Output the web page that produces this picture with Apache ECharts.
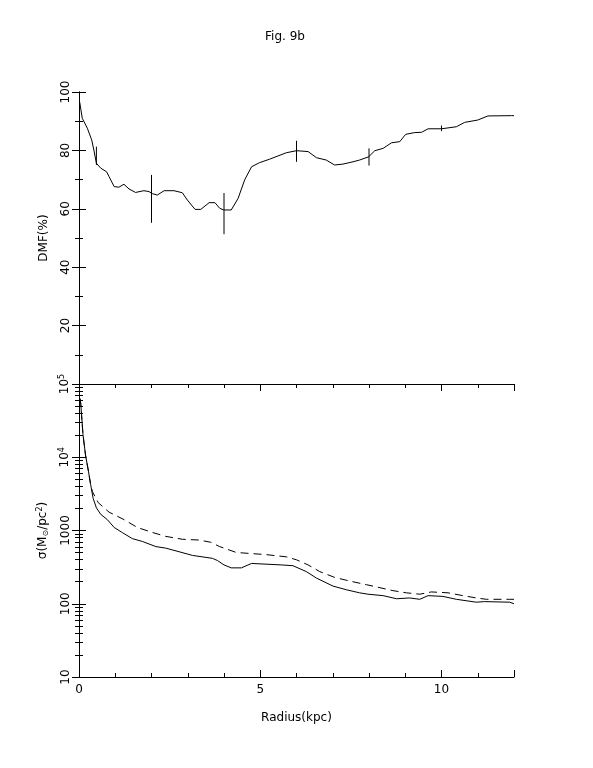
<!DOCTYPE html>
<html>
<head>
<meta charset="utf-8">
<script src="https://cdn.jsdelivr.net/npm/echarts@6/dist/echarts.min.js"></script>
<style>
  html, body { margin: 0; padding: 0; background: #fff; }
  #chart { width: 593px; height: 768px; }
</style>
</head>
<body>
<div id="chart"></div>
<script>
// top panel: dark matter fraction
var dmfR = [0.02, 0.09, 0.23, 0.35, 0.41, 0.48, 0.6, 0.76, 0.83, 0.97, 1.1, 1.24, 1.38, 1.56, 1.79, 1.93, 2.02, 2.16, 2.35, 2.62, 2.85, 2.99, 3.2, 3.36, 3.59, 3.75, 3.88, 3.99, 4.2, 4.39, 4.57, 4.76, 4.98, 5.26, 5.49, 5.72, 6.0, 6.32, 6.55, 6.82, 7.05, 7.28, 7.56, 7.74, 7.99, 8.16, 8.39, 8.62, 8.85, 9.01, 9.26, 9.45, 9.63, 10.0, 10.41, 10.64, 11.0, 11.28, 11.93, 12.0];
var dmfVal = [96.5, 91, 87.6, 83.6, 80.1, 75.6, 73.9, 72.7, 71, 67.6, 67.4, 68.4, 66.8, 65.6, 66.2, 65.9, 65.2, 64.7, 66.2, 66.2, 65.5, 63, 59.8, 59.8, 62.1, 62.1, 60.2, 59.6, 59.6, 63.6, 69.9, 74.4, 75.8, 77, 78.1, 79.2, 79.9, 79.6, 77.5, 76.7, 75, 75.3, 76.1, 76.7, 77.8, 79.9, 80.7, 82.6, 83, 85.5, 86.1, 86.2, 87.4, 87.4, 88.1, 89.6, 90.4, 91.8, 91.9, 91.9];

// error bars on the DMF curve
var errR = [0.48, 2.0, 4.0, 6.0, 8.0, 10.0];
var errLow = [75.0, 55.2, 51.3, 76.1, 74.8, 86.6];
var errHigh = [81.3, 71.6, 65.4, 83.3, 80.7, 88.5];

// bottom panel: surface density, solid
var solidR = [0.03, 0.05, 0.07, 0.11, 0.18, 0.26, 0.32, 0.39, 0.48, 0.6, 0.78, 0.97, 1.2, 1.47, 1.75, 2.12, 2.39, 2.76, 3.13, 3.68, 3.82, 4.0, 4.2, 4.48, 4.76, 5.58, 5.9, 6.27, 6.55, 7.01, 7.38, 7.74, 7.97, 8.39, 8.76, 9.12, 9.4, 9.63, 10.04, 10.41, 10.96, 11.19, 11.88, 12.0];
var solidSigma = [63000, 52500, 38000, 20400, 10700, 6460, 4270, 2750, 2040, 1660, 1410, 1100, 933, 776, 708, 603, 575, 513, 457, 417, 389, 339, 309, 309, 355, 339, 331, 275, 224, 174, 155, 141, 135, 129, 117, 120, 115, 129, 126, 115, 105, 107, 105, 100];

// bottom panel: surface density, dashed
var dashR = [0.03, 0.05, 0.07, 0.11, 0.18, 0.26, 0.32, 0.37, 0.53, 0.83, 1.24, 1.61, 1.98, 2.39, 2.85, 3.31, 3.63, 3.88, 4.0, 4.34, 5.17, 5.72, 6.0, 6.32, 6.64, 7.05, 7.47, 7.93, 8.2, 8.66, 9.03, 9.4, 9.72, 10.18, 10.59, 10.96, 11.24, 11.88, 12.0];
var dashSigma = [63000, 52500, 38000, 20400, 10700, 6460, 4270, 3390, 2400, 1780, 1410, 1100, 955, 832, 759, 741, 692, 603, 575, 501, 468, 437, 398, 339, 275, 229, 204, 182, 170, 151, 141, 135, 145, 141, 129, 120, 115, 115, 115];

var xLabels = {0: '0', 5: '5', 10: '10'};
var logLabels = {100000: '10{sup|5}', 10000: '10{sup|4}', 1000: '1000', 100: '100', 10: '10'};

function pairs(xs, ys) {
  return xs.map(function (x, i) { return [x, ys[i]]; });
}

var font = 'DejaVu Sans';
var black = '#000';
var supRich = {
  sup: { fontSize: 8, verticalAlign: 'top', lineHeight: 14, fontFamily: font, color: black },
  sub: { fontSize: 8, verticalAlign: 'bottom', lineHeight: 14, fontFamily: font, color: black }
};

function xAx(gridIndex, pos, showLabel, showLine) {
  return {
    type: 'value', gridIndex: gridIndex, position: pos,
    min: 0, max: 12, interval: 5,
    axisLine: { show: showLine, lineStyle: { color: black, width: 1 } },
    axisTick: { show: showLine, inside: true, length: 7, lineStyle: { color: black } },
    minorTick: { show: showLine, splitNumber: 5, length: 4, lineStyle: { color: black } },
    axisLabel: {
      show: showLabel, color: black, fontFamily: font, fontSize: 12, margin: 7,
      formatter: function (v) { return xLabels[v] || ''; }
    },
    splitLine: { show: false }
  };
}

var chart = echarts.init(document.getElementById('chart'));
var option = {
  animation: false,
  backgroundColor: '#fff',
  graphic: [{
    type: 'text', x: 285, y: 37,
    style: { text: 'Fig. 9b', fill: black, font: '12px "DejaVu Sans"', textAlign: 'center', textVerticalAlign: 'middle' }
  }],
  grid: [
    { left: 79, right: 79, top: 92, height: 292 },
    { left: 79, right: 79, top: 384, height: 293 }
  ],
  xAxis: [
    xAx(0, 'bottom', false, false),
    xAx(0, 'top', false, true),
    Object.assign(xAx(1, 'bottom', true, true), {
      name: 'Radius(kpc)', nameLocation: 'middle', nameGap: 35,
      nameTextStyle: { color: black, fontFamily: font, fontSize: 12 }
    }),
    xAx(1, 'top', false, true)
  ],
  yAxis: [
    {
      type: 'value', gridIndex: 0, position: 'left', min: 0, max: 100, interval: 20,
      name: 'DMF(%)', nameLocation: 'middle', nameGap: 29, nameRotate: 90,
      nameTextStyle: { color: black, fontFamily: font, fontSize: 12 },
      axisLine: { show: true, lineStyle: { color: black } },
      axisTick: { inside: true, length: 7, lineStyle: { color: black } },
      minorTick: { show: true, splitNumber: 2, length: 4, lineStyle: { color: black } },
      axisLabel: {
        rotate: 90, margin: 7, color: black, fontFamily: font, fontSize: 12,
        formatter: function (v) { return v === 0 ? '' : String(v); }
      },
      splitLine: { show: false }
    },
    {
      type: 'value', gridIndex: 0, position: 'right', min: 0, max: 100, interval: 20,
      axisLine: { show: true, lineStyle: { color: black } },
      axisTick: { inside: true, length: 7, lineStyle: { color: black } },
      minorTick: { show: true, splitNumber: 2, length: 4, lineStyle: { color: black } },
      axisLabel: { show: false },
      splitLine: { show: false }
    },
    {
      type: 'log', logBase: 10, gridIndex: 1, position: 'left', min: 10, max: 100000,
      name: 'σ(M{sub|⊙}/pc{sup|2})', nameLocation: 'middle', nameGap: 28, nameRotate: 90,
      nameTextStyle: { color: black, fontFamily: font, fontSize: 12, rich: supRich },
      axisLine: { show: true, lineStyle: { color: black } },
      axisTick: { inside: true, length: 7, lineStyle: { color: black } },
      minorTick: { show: true, splitNumber: 9, length: 4, lineStyle: { color: black } },
      axisLabel: {
        rotate: 90, margin: 7, color: black, fontFamily: font, fontSize: 12, rich: supRich,
        formatter: function (v) { return logLabels[Math.round(v)] || ''; }
      },
      splitLine: { show: false }
    },
    {
      type: 'log', logBase: 10, gridIndex: 1, position: 'right', min: 10, max: 100000,
      axisLine: { show: true, lineStyle: { color: black } },
      axisTick: { inside: true, length: 7, lineStyle: { color: black } },
      minorTick: { show: true, splitNumber: 9, length: 4, lineStyle: { color: black } },
      axisLabel: { show: false },
      splitLine: { show: false }
    }
  ],
  series: [
    {
      name: 'DMF', type: 'line', xAxisIndex: 0, yAxisIndex: 0,
      showSymbol: false, symbol: 'none',
      lineStyle: { color: black, width: 1 },
      data: pairs(dmfR, dmfVal)
    },
    {
      name: 'errors', type: 'custom', xAxisIndex: 0, yAxisIndex: 0,
      encode: { x: 0, y: [1, 2] },
      renderItem: function (params, api) {
        var lo = api.coord([api.value(0), api.value(1)]);
        var hi = api.coord([api.value(0), api.value(2)]);
        return {
          type: 'line',
          shape: { x1: lo[0], y1: lo[1], x2: hi[0], y2: hi[1] },
          style: { stroke: black, lineWidth: 1 }
        };
      },
      data: errR.map(function (x, i) { return [x, errLow[i], errHigh[i]]; })
    },
    {
      name: 'solid', type: 'line', xAxisIndex: 2, yAxisIndex: 2,
      showSymbol: false, symbol: 'none',
      lineStyle: { color: black, width: 1 },
      data: pairs(solidR, solidSigma)
    },
    {
      name: 'dashed', type: 'line', xAxisIndex: 2, yAxisIndex: 2,
      showSymbol: false, symbol: 'none',
      lineStyle: { color: black, width: 1, type: [8, 5] },
      data: pairs(dashR, dashSigma)
    }
  ]
};
chart.setOption(option);
</script>
</body>
</html>
